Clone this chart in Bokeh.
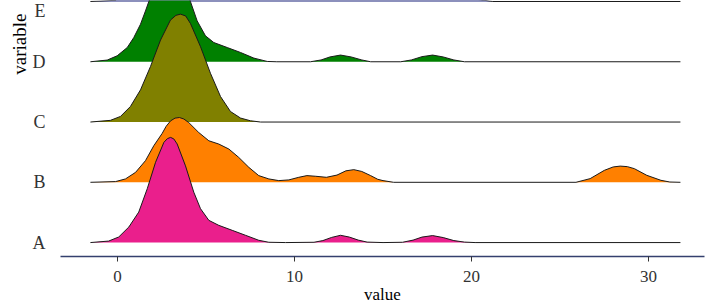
from bokeh.plotting import figure
from bokeh.models import ColumnDataSource, FixedTicker, Title
from bokeh.embed import file_html
from bokeh.resources import INLINE

# ---- data ----
categories = ["A", "B", "C", "D", "E"]

a_x = [-1.53, -0.5, 0.07, 0.64, 1.2, 1.68, 2.15, 2.62, 2.82, 3.0, 3.18, 3.37, 3.84, 4.31, 4.69, 5.16, 5.72, 6.48, 7.23, 7.98, 8.55, 9.5, 11.1, 11.6, 12.1, 12.6, 13.1, 13.6, 14.1, 15.0, 16.1, 16.7, 17.2, 17.8, 18.4, 19.0, 19.6, 20.2, 31.8]
a_h = [0, 0.025, 0.093, 0.258, 0.506, 0.893, 1.332, 1.663, 1.725, 1.745, 1.72, 1.636, 1.273, 0.836, 0.562, 0.369, 0.286, 0.203, 0.121, 0.038, 0.005, 0, 0.005, 0.033, 0.086, 0.121, 0.091, 0.041, 0.008, 0, 0.005, 0.041, 0.091, 0.116, 0.083, 0.033, 0.008, 0, 0]

b_x = [-1.53, -0.11, 0.45, 1.02, 1.58, 2.05, 2.52, 2.75, 3.0, 3.25, 3.5, 3.75, 4.03, 4.59, 5.16, 5.72, 6.29, 6.85, 7.42, 7.98, 8.55, 9.11, 9.68, 10.24, 10.7, 11.2, 11.8, 12.4, 12.9, 13.35, 13.8, 14.3, 14.7, 15.0, 15.6, 25.9, 26.7, 27.5, 28.0, 28.4, 28.8, 29.2, 29.9, 30.7, 31.2, 31.8]
b_h = [0, 0.012, 0.056, 0.165, 0.359, 0.607, 0.81, 0.93, 1.02, 1.065, 1.075, 1.05, 0.99, 0.826, 0.689, 0.635, 0.552, 0.413, 0.248, 0.111, 0.056, 0.028, 0.040, 0.083, 0.111, 0.10, 0.083, 0.12, 0.19, 0.21, 0.18, 0.111, 0.05, 0.028, 0, 0, 0.061, 0.198, 0.255, 0.269, 0.26, 0.226, 0.116, 0.033, 0.005, 0]

c_x = [-1.53, -0.4, 0.17, 0.73, 1.3, 1.86, 2.43, 2.99, 3.3, 3.56, 3.85, 4.12, 4.69, 5.25, 5.82, 6.38, 6.95, 7.51, 8.08, 31.8]
c_h = [0, 0.028, 0.093, 0.258, 0.534, 0.919, 1.36, 1.691, 1.77, 1.79, 1.76, 1.636, 1.25, 0.81, 0.423, 0.175, 0.066, 0.021, 0, 0]

d_x = [-1.53, -0.58, -0.02, 0.55, 0.92, 1.3, 1.58, 1.77, 2.15, 2.62, 3.0, 3.37, 3.84, 4.12, 4.5, 4.97, 5.44, 6.2, 6.95, 7.7, 8.46, 9.0, 10.9, 11.5, 12.0, 12.6, 13.2, 13.8, 14.3, 16.0, 16.6, 17.2, 17.8, 18.4, 19.0, 19.6, 31.8]
d_h = [0, 0.028, 0.099, 0.236, 0.402, 0.623, 0.843, 1.0, 1.30, 1.62, 1.72, 1.62, 1.28, 1.0, 0.678, 0.43, 0.319, 0.236, 0.154, 0.061, 0.005, 0, 0, 0.03, 0.08, 0.111, 0.08, 0.03, 0, 0, 0.03, 0.085, 0.111, 0.08, 0.03, 0, 0]

e_x = [-1.53, -0.1, 0.6, 1.5, 3.0, 4.5, 6.0, 8.0, 10.0, 12.6, 15.0, 17.8, 20.5, 21.2, 31.8]
e_h = [0, 0.02, 0.3, 1.0, 1.7, 0.9, 0.3, 0.1, 0.05, 0.1, 0.05, 0.1, 0.03, 0, 0]

colors = {"A": "#ea1f8c", "B": "#ff8000", "C": "#808000", "D": "#008000", "E": "#1a237a"}
x_ticks = [0, 10, 20, 30]

series = {"A": (a_x, a_h), "B": (b_x, b_h), "C": (c_x, c_h), "D": (d_x, d_h), "E": (e_x, e_h)}

SERIF = "Liberation Serif"

p = figure(width=720, height=306, output_backend="svg", toolbar_location=None,
           x_range=(-3.22, 33.16), y_range=(-0.231, 4.0165),
           min_border_left=60, min_border_right=16, min_border_top=0, min_border_bottom=49)
p.background_fill_color = "white"
p.border_fill_color = "white"
p.outline_line_color = None
p.xgrid.visible = False
p.ygrid.visible = False

# draw top row first so lower rows overlap
for i in range(len(categories) - 1, -1, -1):
    cat = categories[i]
    xs, hs = series[cat]
    src = ColumnDataSource(dict(x=xs, base=[i] * len(xs), top=[i + h for h in hs]))
    p.varea(x="x", y1="base", y2="top", source=src, fill_color=colors[cat], fill_alpha=1.0)
    p.line(x="x", y="top", source=src, line_color="#1a1a1a", line_width=1.0)

# x axis
xa = p.xaxis[0]
xa.ticker = FixedTicker(ticks=x_ticks)
xa.axis_line_color = "#34406e"
xa.axis_line_width = 1.6
xa.major_tick_line_color = "#333333"
xa.major_tick_out = 5
xa.major_tick_in = 0
xa.minor_tick_line_color = None
xa.major_label_standoff = 9
xa.major_label_text_font = SERIF
xa.major_label_text_font_size = "17px"
xa.major_label_text_color = "#333333"
xa.axis_label = "value"
xa.axis_label_standoff = 0
xa.axis_label_text_font = SERIF
xa.axis_label_text_font_size = "17px"
xa.axis_label_text_font_style = "normal"
xa.axis_label_text_color = "black"

# y axis
ya = p.yaxis[0]
ya.ticker = FixedTicker(ticks=list(range(len(categories))))
ya.major_label_overrides = {i: c for i, c in enumerate(categories)}
ya.axis_line_color = None
ya.major_tick_line_color = None
ya.minor_tick_line_color = None
ya.major_label_standoff = 9
ya.major_label_text_font = SERIF
ya.major_label_text_font_size = "18px"
ya.major_label_text_color = "#333333"

# y axis title placed near the top, as in the reference
p.add_layout(Title(text="variable", align="right", offset=13, standoff=0, text_font=SERIF,
                   text_font_size="19px", text_font_style="normal", text_color="black"), "left")

open("out.html", "w").write(file_html(p, INLINE))
